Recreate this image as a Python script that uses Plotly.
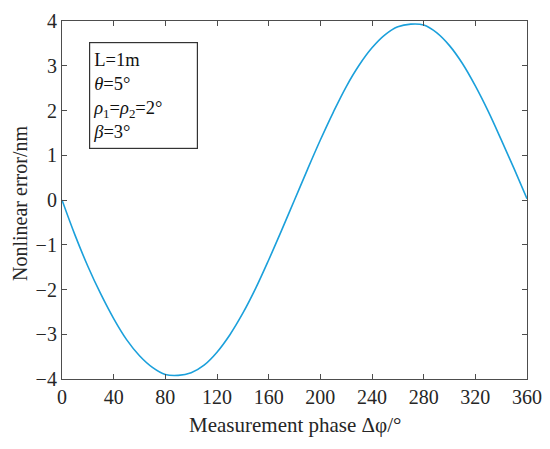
import plotly.graph_objects as go

phase_deg = [0, 10, 20, 30, 40, 50, 60, 70, 80, 90, 100, 110, 120, 130, 140, 150, 160, 170,
             180, 190, 200, 210, 220, 230, 240, 250, 260, 270, 280, 290, 300, 310, 320,
             330, 340, 350, 360]
error_nm = [0.00, -0.78, -1.48, -2.10, -2.65, -3.12, -3.48, -3.74, -3.90, -3.92, -3.86,
            -3.69, -3.40, -3.01, -2.53, -1.97, -1.34, -0.68,
            0.00, 0.68, 1.34, 1.96, 2.53, 3.01, 3.40, 3.69, 3.87, 3.93, 3.91, 3.74, 3.45,
            3.05, 2.55, 1.98, 1.35, 0.70, 0.03]

x_ticks = [0, 40, 80, 120, 160, 200, 240, 280, 320, 360]
y_ticks = [-4, -3, -2, -1, 0, 1, 2, 3, 4]
y_tick_text = ["\u22124", "\u22123", "\u22122", "\u22121", "0", "1", "2", "3", "4"]

x_title = "Measurement phase \u0394\u03c6/\u00b0"
y_title = "Nonlinear error/nm"

FONT = "Liberation Serif, Times New Roman, serif"
AX = "#4d4d4d"

fig = go.Figure()
fig.add_trace(go.Scatter(x=phase_deg, y=error_nm, mode="lines",
                         line=dict(color="#1ba0db", width=1.6, shape="spline", smoothing=1.0),
                         showlegend=False))

axis_common = dict(showgrid=False, zeroline=False, showline=True, linecolor=AX, linewidth=1.2,
                   mirror="ticks", ticks="inside", ticklen=5, tickcolor=AX, tickwidth=1,
                   automargin=False,
                   tickfont=dict(family=FONT, size=20, color="#262626"))

# page body has an 8px margin, so the figure is sized/offset to land the plot at the reference place
fig.update_layout(
    width=542, height=441,
    margin=dict(l=54, r=23, t=13, b=70),
    paper_bgcolor="white", plot_bgcolor="white",
    xaxis=dict(range=[0, 360], tickvals=x_ticks, ticktext=[str(v) for v in x_ticks],
               **axis_common),
    yaxis=dict(range=[-4, 4], tickvals=y_ticks, ticktext=y_tick_text,
               **axis_common),
)

# axis titles
fig.add_annotation(xref="paper", yref="paper", x=0.5, y=-0.1285, xanchor="center", yanchor="middle",
                   text=x_title, showarrow=False,
                   font=dict(family=FONT, size=21, color="#262626"))
fig.add_annotation(xref="paper", yref="paper", x=-0.0903, y=0.489, xanchor="center", yanchor="middle",
                   text=y_title, textangle=-90, showarrow=False,
                   font=dict(family=FONT, size=20, color="#262626"))

fig.add_annotation(
    xref="paper", yref="paper", x=0.058, y=0.94, xanchor="left", yanchor="top",
    text="L=1m<br><i>\u03b8</i>=5\u00b0<br><i>\u03c1</i><sub>1</sub>=<i>\u03c1</i><sub>2</sub>=2\u00b0<br><i>\u03b2</i>=3\u00b0",
    showarrow=False, align="left", width=101, height=99,
    font=dict(family=FONT, size=18.5, color="#111111"),
    bordercolor="#333333", borderwidth=1.2, borderpad=3, bgcolor="white",
)

fig.write_html("out.html")
